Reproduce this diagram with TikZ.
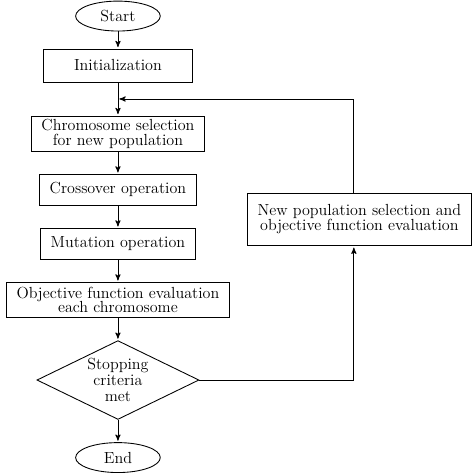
\documentclass[tikz,border=0pt]{standalone}
\usepackage{tikz}
\usetikzlibrary{arrows,matrix,shapes.geometric,calc}

\begin{document}
\begin{tikzpicture}[->,>=stealth',shorten >=1pt,auto,semithick,
                    font=\fontsize{11pt}{10.2pt}\selectfont]
  \tikzstyle{block}=[draw,rectangle,minimum width=102pt,minimum height=21pt,
                     inner xsep=7pt,inner ysep=1.5pt,align=center]
  \tikzstyle{terminal}=[draw,ellipse,minimum width=58pt,minimum height=20.5pt,
                        inner sep=0pt]
  \tikzstyle{decision}=[draw,diamond,aspect=2,minimum width=111pt,
                        minimum height=54pt,inner sep=0pt,align=center,
                        font=\fontsize{11pt}{10.8pt}\selectfont]

      \matrix (m) [matrix of nodes
      ,row sep=15.4pt] {
      \node[terminal](start) {Start}; \\[-3.7pt]
      \node[block,minimum height=22.6pt](init) {Initialization}; \\[7.3pt]
      \node[block,minimum height=24pt](chrom) {Chromosome selection\\for new population}; \\
      \node[block](cross) {Crossover operation}; \\
      \node[block](mut) {Mutation operation}; \\
      \node[block,minimum height=24pt](obj) {Objective function evaluation\\each chromosome}; \\
      \node[decision](stop) {Stopping\\criteria\\met}; \\
      \node[terminal](end) {End}; \\
      };

  \coordinate (join) at ($(init.south)!0.5!(chrom.north)$);
  \node[block,minimum width=154pt,minimum height=36pt] (newpop)
       at ($(cross)!0.5!(mut)+(165.4pt,-1.9pt)$)
       {New population selection and\\objective function evaluation};

  \path (start) edge (init)
        (init)  edge (chrom)
        (chrom) edge (cross)
        (cross) edge (mut)
        (mut)   edge (obj)
        (obj)   edge (stop)
        (stop)  edge (end);
  \draw (stop.east) -| ([xshift=-3.8pt]newpop.south);
  \draw ([xshift=-3.8pt]newpop.north) |- (join);

  \pgfresetboundingbox
  \useasboundingbox ($(start.center)+(-80.8pt,11pt)$) rectangle +(324.7pt,-324.7pt);
\end{tikzpicture}
\end{document}
